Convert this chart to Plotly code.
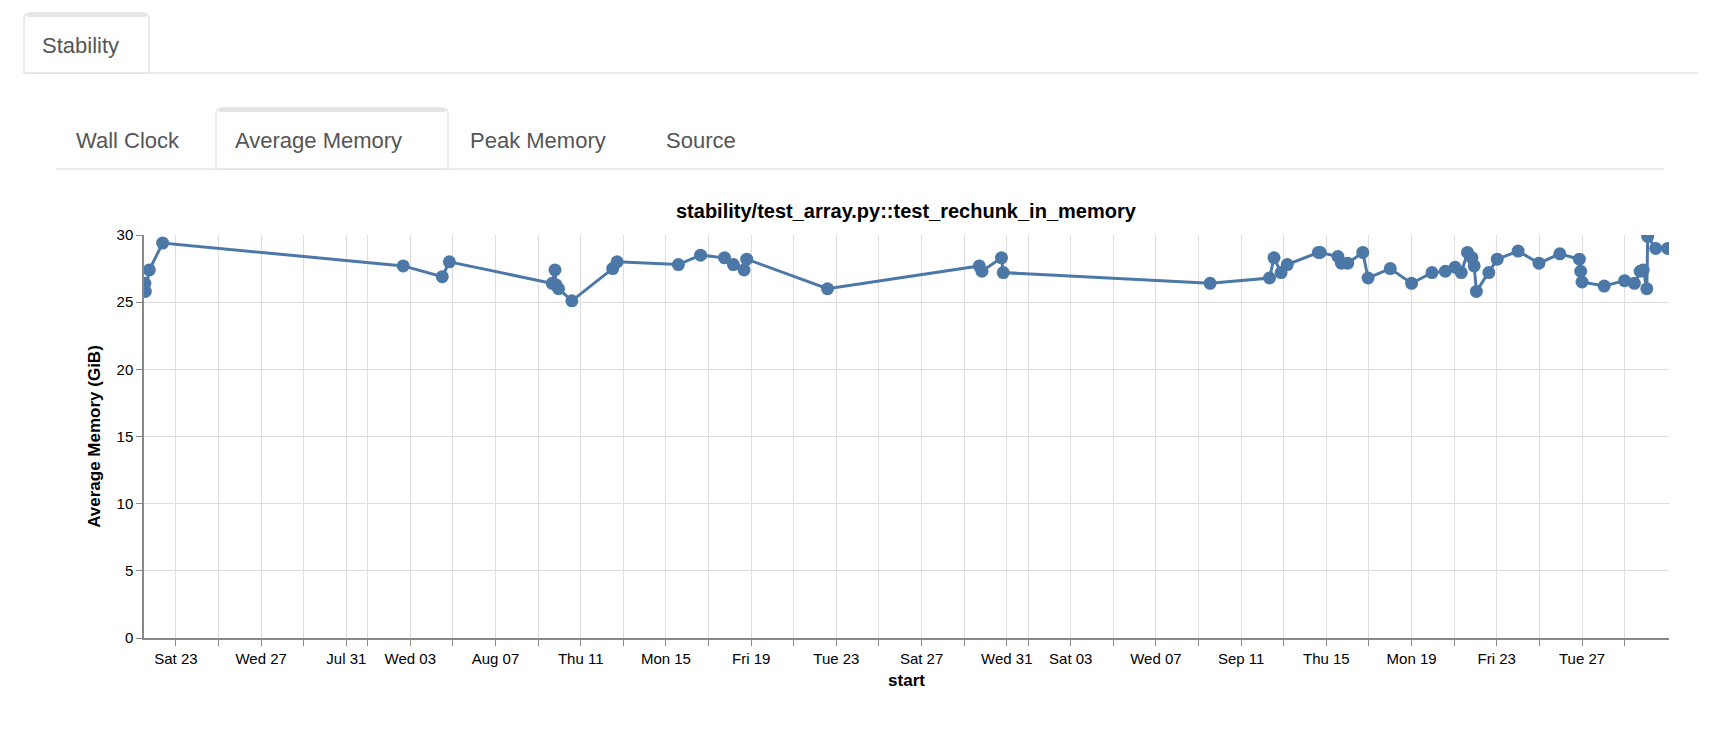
import plotly.graph_objects as go
import pandas as pd

start = ["2022-07-21 13:00","2022-07-21 13:30","2022-07-21 18:00","2022-07-22 09:00",
 "2022-08-02 16:00","2022-08-04 12:00","2022-08-04 20:00",
 "2022-08-09 16:00","2022-08-09 19:00","2022-08-09 20:00","2022-08-09 23:00","2022-08-10 14:00",
 "2022-08-12 12:00","2022-08-12 17:00","2022-08-15 14:00","2022-08-16 15:00","2022-08-17 18:00",
 "2022-08-18 04:00","2022-08-18 16:00","2022-08-18 19:00","2022-08-22 14:00",
 "2022-08-29 17:00","2022-08-29 20:00","2022-08-30 18:00","2022-08-30 20:00",
 "2022-09-09 13:00","2022-09-12 08:00","2022-09-12 13:00","2022-09-12 21:00","2022-09-13 04:00",
 "2022-09-14 15:00","2022-09-14 17:00","2022-09-15 13:00","2022-09-15 17:00","2022-09-16 00:00",
 "2022-09-16 17:00","2022-09-16 23:00","2022-09-18 00:00","2022-09-19 00:00","2022-09-19 23:00",
 "2022-09-20 14:00","2022-09-21 01:00","2022-09-21 08:00","2022-09-21 15:00","2022-09-21 20:00",
 "2022-09-21 22:30","2022-09-22 01:00","2022-09-22 15:00","2022-09-23 00:30","2022-09-24 00:00",
 "2022-09-24 23:30","2022-09-25 23:00","2022-09-26 21:00","2022-09-26 22:30","2022-09-27 00:00",
 "2022-09-28 01:00","2022-09-29 00:00","2022-09-29 11:00","2022-09-29 17:30","2022-09-29 21:00",
 "2022-09-30 01:00","2022-09-30 02:00","2022-09-30 11:00","2022-10-01 00:30"]
avg_mem = [26.4,25.8,27.4,29.4,
 27.7,26.9,28.0,
 26.4,27.4,26.3,26.0,25.1,
 27.5,28.0,27.8,28.5,28.3,
 27.8,27.4,28.2,26.0,
 27.7,27.3,28.3,27.2,
 26.4,26.8,28.3,27.2,27.8,
 28.7,28.7,28.4,27.9,27.9,
 28.7,26.8,27.5,26.4,27.2,
 27.3,27.6,27.2,28.7,28.3,
 27.7,25.8,27.2,28.2,28.8,
 27.9,28.6,28.2,27.3,26.5,
 26.2,26.6,26.4,27.3,27.4,
 26.0,29.9,29.0,29.0]

tick_labels = {"2022-07-23":"Sat 23","2022-07-27":"Wed 27","2022-07-31":"Jul 31","2022-08-03":"Wed 03",
 "2022-08-07":"Aug 07","2022-08-11":"Thu 11","2022-08-15":"Mon 15","2022-08-19":"Fri 19",
 "2022-08-23":"Tue 23","2022-08-27":"Sat 27","2022-08-31":"Wed 31","2022-09-03":"Sat 03",
 "2022-09-07":"Wed 07","2022-09-11":"Sep 11","2022-09-15":"Thu 15","2022-09-19":"Mon 19",
 "2022-09-23":"Fri 23","2022-09-27":"Tue 27"}

tickvals, ticktext = [], []
for d in pd.date_range("2022-07-21", "2022-09-30"):
    if d.day % 2 == 1:
        k = d.strftime("%Y-%m-%d")
        tickvals.append(k)
        ticktext.append(tick_labels.get(k, ""))

W, H = 1722, 750
L, R, T, B = 136, 1661, 227, 630
DX, DY = -8, -8
def px(x): return (x + DX - L) / (R - L)
def py(y): return (B - (y + DY)) / (B - T)

fig = go.Figure(go.Scatter(x=pd.to_datetime(start), y=avg_mem, mode="lines+markers",
    line=dict(color="#4c78a8", width=3), marker=dict(color="#4c78a8", size=13), hoverinfo="x+y"))

font = "Liberation Sans, Arial, sans-serif"
shapes, ann = [], []
def tab(x0, x1, y0, y1):
    shapes.append(dict(type="path", xref="paper", yref="paper",
        path=f"M {px(x0)} {py(y1)} L {px(x0)} {py(y0+6)} Q {px(x0)} {py(y0)} {px(x0+6)} {py(y0)} L {px(x1-6)} {py(y0)} Q {px(x1)} {py(y0)} {px(x1)} {py(y0+6)} L {px(x1)} {py(y1)} Z",
        fillcolor="white", line=dict(color="#e4e4e4", width=1.5)))
    shapes.append(dict(type="line", xref="paper", yref="paper", x0=px(x0+3), x1=px(x1-3),
        y0=py(y0+2), y1=py(y0+2), line=dict(color="#e4e4e4", width=4)))
def label(x, y, text):
    ann.append(dict(xref="paper", yref="paper", x=px(x), y=py(y), text=text, showarrow=False,
        xanchor="left", yanchor="middle", font=dict(family=font, size=22, color="#555")))

shapes.append(dict(type="line", xref="paper", yref="paper", x0=px(24), x1=px(1698), y0=py(73), y1=py(73),
    line=dict(color="#e4e4e4", width=1.5)))
tab(24, 149, 13, 73)
label(40, 45, "Stability")
shapes.append(dict(type="line", xref="paper", yref="paper", x0=px(56), x1=px(1664), y0=py(169), y1=py(169),
    line=dict(color="#e4e4e4", width=1.5)))
tab(216, 448, 108, 169)
label(74, 140, "Wall Clock")
label(233, 140, "Average Memory")
label(468, 140, "Peak Memory")
label(664, 140, "Source")
ann.append(dict(xref="paper", yref="paper", x=0.5, y=py(211), text="<b>stability/test_array.py::test_rechunk_in_memory</b>",
    showarrow=False, xanchor="center", yanchor="middle", font=dict(family=font, size=20, color="black")))

fig.update_layout(width=W, height=H, margin=dict(l=L, r=W-R, t=T, b=H-B),
    plot_bgcolor="white", paper_bgcolor="white", showlegend=False,
    shapes=shapes, annotations=ann, font=dict(family=font, size=15, color="black"))
fig.update_xaxes(range=["2022-07-21 12:00", "2022-10-01 02:00"], tickmode="array", tickvals=tickvals,
    ticktext=ticktext, tickangle=0, showgrid=True, gridcolor="#ddd", ticks="outside", ticklen=6,
    tickcolor="#888", showline=True, linecolor="#888", linewidth=1.5, zeroline=False,
    title=dict(text="<b>start</b>", font=dict(size=17), standoff=8))
fig.update_yaxes(range=[0, 30], dtick=5, showgrid=True, gridcolor="#ddd", ticks="outside", ticklen=6,
    tickcolor="#888", showline=True, linecolor="#888", linewidth=1.5, zeroline=False,
    title=dict(text="<b>Average Memory (GiB)</b>", font=dict(size=17), standoff=12))
fig.write_html("out.html")
